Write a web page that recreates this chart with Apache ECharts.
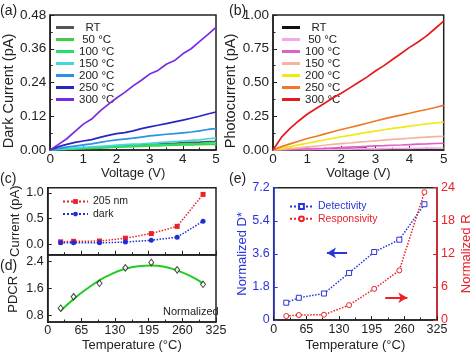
<!DOCTYPE html>
<html>
<head>
<meta charset="utf-8">
<script src="https://cdn.jsdelivr.net/npm/echarts@6/dist/echarts.min.js"></script>
<style>
html, body { margin: 0; padding: 0; background: #fff; }
#main { width: 474px; height: 353px; }
</style>
</head>
<body>
<div id="main"></div>
<script>
// ---- data ----
const voltage = [0, 0.25, 0.5, 0.75, 1, 1.25, 1.5, 1.75, 2, 2.25, 2.5, 2.75, 3, 3.25, 3.5, 3.75, 4, 4.25, 4.5, 4.75, 5]
const tempNames = ['RT', '50 °C', '100 °C', '150 °C', '200 °C', '250 °C', '300 °C']

// (a) dark current, pA
const darkRT = [0, 0.002, 0.003, 0.004, 0.006, 0.008, 0.009, 0.011, 0.013, 0.014, 0.016, 0.018, 0.02, 0.021, 0.023, 0.024, 0.026, 0.027, 0.028, 0.03, 0.03]
const dark50 = [0, 0.001, 0.002, 0.004, 0.005, 0.006, 0.007, 0.008, 0.01, 0.011, 0.012, 0.013, 0.015, 0.015, 0.016, 0.017, 0.018, 0.018, 0.019, 0.02, 0.02]
const dark100 = [0, 0.002, 0.003, 0.005, 0.007, 0.008, 0.009, 0.011, 0.012, 0.014, 0.015, 0.016, 0.018, 0.018, 0.019, 0.02, 0.021, 0.022, 0.023, 0.025, 0.026]
const dark150 = [0, 0.003, 0.005, 0.007, 0.009, 0.011, 0.013, 0.015, 0.017, 0.019, 0.021, 0.022, 0.024, 0.026, 0.028, 0.03, 0.032, 0.034, 0.036, 0.04, 0.042]
const dark200 = [0, 0.006, 0.01, 0.014, 0.018, 0.022, 0.027, 0.032, 0.036, 0.039, 0.042, 0.046, 0.05, 0.053, 0.056, 0.058, 0.061, 0.064, 0.068, 0.073, 0.076]
const dark250 = [0, 0.012, 0.02, 0.027, 0.032, 0.037, 0.045, 0.052, 0.058, 0.062, 0.068, 0.076, 0.082, 0.088, 0.094, 0.1, 0.106, 0.113, 0.12, 0.128, 0.135]
const dark300 = [0, 0.02, 0.04, 0.066, 0.092, 0.11, 0.138, 0.162, 0.185, 0.205, 0.228, 0.248, 0.27, 0.283, 0.305, 0.318, 0.342, 0.36, 0.385, 0.41, 0.436]

// (b) photocurrent, pA
const photoRT = [0, 0.001, 0.002, 0.003, 0.004, 0.005, 0.006, 0.008, 0.009, 0.011, 0.013, 0.014, null, null, null, null, null, null, null, null, null]
const photo50 = [0, 0.001, 0.002, 0.002, 0.003, 0.004, 0.005, 0.005, 0.006, 0.007, 0.008, 0.008, 0.009, 0.01, 0.011, 0.011, 0.012, 0.013, 0.014, 0.014, 0.015]
const photo100 = [0, 0.002, 0.004, 0.006, 0.008, 0.01, 0.012, 0.015, 0.018, 0.021, 0.024, 0.027, 0.03, 0.032, 0.035, 0.037, 0.04, 0.043, 0.045, 0.048, 0.05]
const photo150 = [0, 0.005, 0.01, 0.016, 0.022, 0.028, 0.035, 0.041, 0.047, 0.052, 0.058, 0.063, 0.068, 0.073, 0.078, 0.082, 0.087, 0.091, 0.095, 0.099, 0.102]
const photo200 = [0, 0.012, 0.025, 0.038, 0.05, 0.062, 0.074, 0.086, 0.098, 0.108, 0.12, 0.13, 0.14, 0.15, 0.16, 0.168, 0.177, 0.185, 0.193, 0.2, 0.207]
const photo250 = [0, 0.025, 0.045, 0.065, 0.085, 0.1, 0.118, 0.135, 0.152, 0.167, 0.182, 0.198, 0.215, 0.23, 0.245, 0.258, 0.272, 0.287, 0.3, 0.315, 0.33]
const photo300 = [0, 0.095, 0.16, 0.215, 0.265, 0.305, 0.345, 0.385, 0.42, 0.46, 0.5, 0.54, 0.585, 0.625, 0.67, 0.715, 0.76, 0.8, 0.845, 0.9, 0.955]

// (c)-(e) temperature dependence
const temperature = [25, 50, 100, 150, 200, 250, 300]
const current205 = [0.05, 0.06, 0.065, 0.12, 0.21, 0.35, 0.97]
const currentDark = [0.03, 0.03, 0.03, 0.045, 0.08, 0.14, 0.45]
const pdcr = [1.01, 1.35, 1.75, 2.21, 2.37, 2.15, 1.72]
const fitTemp = [25, 50, 75, 100, 125, 150, 175, 200, 225, 250, 275, 300]
const fitPdcr = [0.93, 1.28, 1.58, 1.84, 2.04, 2.18, 2.26, 2.28, 2.24, 2.13, 1.97, 1.75]
const detectivity = [0.94, 1.21, 1.44, 2.56, 3.7, 4.37, 6.3]
const responsivity = [0.72, 0.9, 0.96, 2.7, 5.65, 9.0, 23.2]

const darkSets = [darkRT, dark50, dark100, dark150, dark200, dark250, dark300]
const photoSets = [photoRT, photo50, photo100, photo150, photo200, photo250, photo300]
const darkColors = ['#555555', '#44cc44', '#22e06a', '#44d6dc', '#2a90e8', '#2a24c0', '#7a2ae0']
const photoColors = ['#111111', '#f4a8e8', '#e060c8', '#f6b4a0', '#f0ea10', '#f07828', '#e41a1c']

const FONT = 'Liberation Sans, Arial, sans-serif'
const pair = (xs, ys) => xs.map((x, i) => [x, ys[i]])

const main = document.getElementById('main')
let myChart = echarts.init(main, null, { renderer: 'canvas' })

function baseAxis(extra) {
    return Object.assign({
        type: 'value',
        axisLine: { show: true, onZero: false, lineStyle: { color: '#222', width: 1.5 } },
        axisTick: { show: true, inside: true, length: 4, lineStyle: { color: '#222' } },
        axisLabel: { color: '#222', fontFamily: FONT, fontSize: 13 },
        splitLine: { show: false },
        nameLocation: 'middle',
        nameTextStyle: { color: '#222', fontFamily: FONT, fontSize: 13 }
    }, extra)
}

const minor = { show: true, splitNumber: 2, length: 2.5, lineStyle: { color: '#222' } }
const gridStyle = { show: true, borderColor: '#222', borderWidth: 1.5, backgroundColor: 'transparent' }

// legend text is roughly centred in the original
const padName = n => ({ 'RT': '  RT', '50 °C': ' 50 °C' })[n.trim()] || n.trim()

let series = []
tempNames.forEach((t, i) => {
    series.push({
        name: t, type: 'line', xAxisIndex: 0, yAxisIndex: 0,
        data: pair(voltage, darkSets[i]), showSymbol: false, symbol: 'none',
        color: darkColors[i], lineStyle: { width: 1.7 }, z: 2 + i
    })
    series.push({
        name: t + ' ', type: 'line', xAxisIndex: 1, yAxisIndex: 1,
        data: pair(voltage, photoSets[i]), showSymbol: false, symbol: 'none',
        color: photoColors[i], lineStyle: { width: 1.7 }, z: 2 + i
    })
})

series.push(
    {
        name: '205 nm', type: 'line', xAxisIndex: 2, yAxisIndex: 2,
        data: pair(temperature, current205), symbol: 'rect', symbolSize: 5,
        color: '#e8222a', lineStyle: { type: 'dotted', width: 1.5 }
    },
    {
        name: 'dark', type: 'line', xAxisIndex: 2, yAxisIndex: 2,
        data: pair(temperature, currentDark), symbol: 'circle', symbolSize: 5,
        color: '#1f2fd6', lineStyle: { type: 'dotted', width: 1.5 }
    },
    {
        name: 'fit', type: 'line', xAxisIndex: 3, yAxisIndex: 3,
        data: pair(fitTemp, fitPdcr), showSymbol: false, symbol: 'none', smooth: true,
        color: '#22cc22', lineStyle: { width: 2 }
    },
    {
        name: 'PDCR', type: 'scatter', xAxisIndex: 3, yAxisIndex: 3,
        data: pair(temperature, pdcr), symbol: 'diamond', symbolSize: [5, 6.5],
        itemStyle: { color: '#fff', borderColor: '#111', borderWidth: 1 }, z: 5
    },
    {
        name: 'Detectivity', type: 'line', xAxisIndex: 4, yAxisIndex: 4,
        data: pair(temperature, detectivity), symbol: 'rect', symbolSize: 5,
        color: '#2a35d8',
        itemStyle: { color: '#fff', borderColor: '#2a35d8', borderWidth: 1 },
        lineStyle: { color: '#2a35d8', type: 'dotted', width: 1.5 },
        markLine: {
            silent: true, symbol: ['none', 'arrow'], symbolSize: [8, 9],
            label: { show: false },
            lineStyle: { color: '#2a35d8', type: 'solid', width: 2 },
            data: [[{ coord: [146, 3.65] }, { coord: [106, 3.65] }]]
        }
    },
    {
        name: 'Responsivity', type: 'line', xAxisIndex: 4, yAxisIndex: 5,
        data: pair(temperature, responsivity), symbol: 'circle', symbolSize: 5,
        color: '#e8222a',
        itemStyle: { color: '#fff', borderColor: '#e8222a', borderWidth: 1 },
        lineStyle: { color: '#e8222a', type: 'dotted', width: 1.5 },
        markLine: {
            silent: true, symbol: ['none', 'arrow'], symbolSize: [8, 9],
            label: { show: false },
            lineStyle: { color: '#e8222a', type: 'solid', width: 2 },
            data: [[{ coord: [222, 4.04] }, { coord: [266, 4.04] }]]
        }
    }
)

const ivLegend = (left, names) => ({
    orient: 'vertical', left: left, top: 16.5,
    icon: 'rect', itemWidth: 18, itemHeight: 3, itemGap: 0,
    data: names,
    formatter: padName,
    textStyle: { fontFamily: FONT, fontSize: 11.5, lineHeight: 12, color: '#222' }
})

myChart.setOption({
    animation: false,
    backgroundColor: '#fff',
    textStyle: { fontFamily: FONT },
    grid: [
        Object.assign({ left: 47.7, top: 15, width: 168.3, height: 135 }, gridStyle),
        Object.assign({ left: 273, top: 15, width: 170.7, height: 135 }, gridStyle),
        Object.assign({ left: 47.7, top: 187.7, width: 168.3, height: 67 }, gridStyle),
        Object.assign({ left: 47.7, top: 254.7, width: 168.3, height: 68 }, gridStyle),
        Object.assign({ left: 273.7, top: 187.7, width: 170, height: 133 }, gridStyle)
    ],
    xAxis: [
        baseAxis({ gridIndex: 0, min: 0, max: 5, interval: 1, name: 'Voltage (V)', nameGap: 16, minorTick: minor, axisLabel: { color: '#222', fontFamily: FONT, fontSize: 13.5, margin: 2 } }),
        baseAxis({ gridIndex: 1, min: 0, max: 5, interval: 1, name: 'Voltage (V)', nameGap: 16, minorTick: minor, axisLabel: { color: '#222', fontFamily: FONT, fontSize: 13.5, margin: 2 } }),
        baseAxis({ gridIndex: 2, min: 0, max: 325, interval: 65, axisLabel: { show: false }, minorTick: minor }),
        baseAxis({ gridIndex: 3, min: 0, max: 325, interval: 65, name: 'Temperature (°C)', nameGap: 17, axisLabel: { color: '#222', fontFamily: FONT, fontSize: 12.5, margin: 2 }, minorTick: minor }),
        baseAxis({ gridIndex: 4, min: 0, max: 325, interval: 65, name: 'Temperature (°C)', nameGap: 19, axisLabel: { color: '#222', fontFamily: FONT, fontSize: 12.5, margin: 3 }, minorTick: minor })
    ],
    yAxis: [
        baseAxis({ gridIndex: 0, min: 0, max: 0.48, interval: 0.12, name: 'Dark Current (pA)', nameGap: 24, minorTick: minor,
            nameTextStyle: { color: '#222', fontFamily: FONT, fontSize: 14.5, padding: [0, 17, 0, 0] },
            axisLabel: { color: '#222', fontFamily: FONT, fontSize: 13.5, margin: 4, formatter: v => v.toFixed(2) } }),
        baseAxis({ gridIndex: 1, min: 0, max: 1, interval: 0.25, name: 'Photocurrent (pA)', nameGap: 17, minorTick: minor,
            nameTextStyle: { color: '#222', fontFamily: FONT, fontSize: 14.5, padding: [0, 17, 0, 0] },
            axisLabel: { color: '#222', fontFamily: FONT, fontSize: 13.5, margin: 4, formatter: v => v.toFixed(2) } }),
        baseAxis({ gridIndex: 2, min: -0.2, max: 1.1, name: 'Current (pA)', nameGap: 26,
            axisTick: { show: true, inside: true, length: 4, customValues: [0, 0.5, 1], lineStyle: { color: '#222' } },
            axisLabel: { color: '#222', fontFamily: FONT, fontSize: 12.5, margin: 4, customValues: [0, 0.5, 1], formatter: v => v.toFixed(1) } }),
        baseAxis({ gridIndex: 3, min: 0.6, max: 2.6, name: 'PDCR', nameGap: 28,
            nameTextStyle: { color: '#222', fontFamily: FONT, fontSize: 13, padding: [0, 12, 0, 0] },
            axisTick: { show: true, inside: true, length: 4, customValues: [0.8, 1.6, 2.4], lineStyle: { color: '#222' } },
            axisLabel: { color: '#222', fontFamily: FONT, fontSize: 12.5, margin: 4, customValues: [0.8, 1.6, 2.4], formatter: v => v.toFixed(1) } }),
        baseAxis({ gridIndex: 4, min: 0, max: 7.2, interval: 1.8, name: 'Normalized D*', nameGap: 25,
            axisLine: { show: true, lineStyle: { color: '#2a35d8', width: 1.5 } },
            axisTick: { show: true, inside: true, length: 4, lineStyle: { color: '#2a35d8' } },
            nameTextStyle: { color: '#2a35d8', fontFamily: FONT, fontSize: 13 },
            axisLabel: { color: '#2a35d8', fontFamily: FONT, fontSize: 12.5, margin: 4, formatter: v => v === 0 ? '0' : v.toFixed(1) } }),
        baseAxis({ gridIndex: 4, position: 'right', min: 0, max: 24, interval: 6, name: 'Normalized R', nameGap: 23, nameRotate: 90,
            axisLine: { show: true, lineStyle: { color: '#e8222a', width: 1.5 } },
            axisTick: { show: true, inside: true, length: 4, lineStyle: { color: '#e8222a' } },
            nameTextStyle: { color: '#e8222a', fontFamily: FONT, fontSize: 13 },
            axisLabel: { color: '#e8222a', fontFamily: FONT, fontSize: 12.5, margin: 4 } })
    ],
    legend: [
        ivLegend(51, tempNames),
        ivLegend(277, tempNames.map(t => t + ' ')),
        {
            orient: 'vertical', left: 57, top: 190.5, itemWidth: 25, itemHeight: 6, itemGap: 0.6,
            data: ['205 nm', 'dark'],
            textStyle: { fontFamily: FONT, fontSize: 10.5, lineHeight: 12, color: '#222' }
        },
        {
            orient: 'vertical', left: 284, top: 195.5, itemWidth: 23, itemHeight: 6, itemGap: 0.3,
            data: [
                { name: 'Detectivity', textStyle: { color: '#2a35d8' } },
                { name: 'Responsivity', textStyle: { color: '#e8222a' } }
            ],
            textStyle: { fontFamily: FONT, fontSize: 10.5, lineHeight: 12 }
        }
    ],
    graphic: [
        { type: 'text', left: 0, top: 4, style: { text: '(a)', font: '14px ' + FONT, fill: '#222' } },
        { type: 'text', left: 229, top: 4, style: { text: '(b)', font: '14px ' + FONT, fill: '#222' } },
        { type: 'text', left: 0, top: 172, style: { text: '(c)', font: '14px ' + FONT, fill: '#222' } },
        { type: 'text', left: 0, top: 259, style: { text: '(d)', font: '14px ' + FONT, fill: '#222' } },
        { type: 'text', left: 229, top: 172, style: { text: '(e)', font: '14px ' + FONT, fill: '#222' } },
        { type: 'text', left: 163, top: 306, style: { text: 'Normalized', font: '11px ' + FONT, fill: '#222' } }
    ],
    series: series
})
</script>
</body>
</html>
